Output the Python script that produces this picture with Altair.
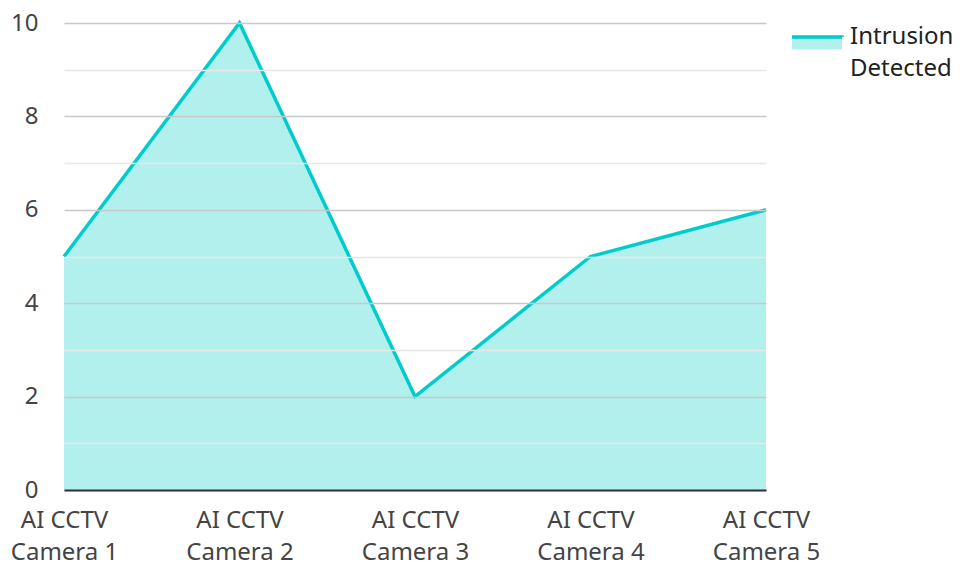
import altair as alt
import pandas as pd

cameras = ["AI CCTV Camera 1", "AI CCTV Camera 2", "AI CCTV Camera 3", "AI CCTV Camera 4", "AI CCTV Camera 5"]
intrusions = [5, 10, 2, 5, 6]
series = "Intrusion Detected"

df = pd.DataFrame({"camera": cameras, "value": intrusions, "series": [series] * len(cameras)})

FS = 24

x = alt.X("camera:N", sort=cameras, title=None,
          scale=alt.Scale(type="point", padding=0),
          axis=alt.Axis(labelAngle=0, labelExpr="['AI CCTV', slice(datum.label, 8)]",
                        labelFontSize=FS, labelColor="#444444", labelFont="Noto Sans",
                        labelPadding=18, labelLineHeight=32, labelBaseline="top",
                        ticks=False, domain=True, domainColor="#333333", domainWidth=2,
                        grid=False, zindex=2))

y = alt.Y("value:Q", title=None,
          scale=alt.Scale(domain=[0, 10], nice=False),
          axis=alt.Axis(values=list(range(0, 11)),
                        labelExpr="datum.value % 2 ? '' : datum.label",
                        labelFontSize=FS, labelColor="#444444", labelFont="Noto Sans",
                        labelPadding=26, ticks=False, domain=False,
                        grid=True, gridWidth=1.5,
                        gridColor={"condition": {"test": "datum.value % 2 == 1", "value": "#e8e8e8"}, "value": "#c8c8c8"},
                        zindex=1))

area = alt.Chart(df).mark_area(opacity=1).encode(
    x=x, y=y,
    fill=alt.Fill("series:N", title=None,
                  scale=alt.Scale(range=["#b2f0ee"]),
                  legend=alt.Legend(orient="none", legendX=741, legendY=2, title=None,
                                    symbolType="M-3.57,0L3.57,0L3.57,1.8L-3.57,1.8Z",
                                    symbolSize=196, symbolStrokeColor="#00cccc",
                                    symbolStrokeWidth=3.5, symbolDash=[50, 200],
                                    symbolOpacity=1,
                                    labelFontSize=FS, labelFont="Noto Sans", labelColor="#222222",
                                    labelExpr="split(datum.label, ' ')",
                                    labelOffset=21, labelLimit=220)),
)

line = alt.Chart(df).mark_line(color="#00cccc", strokeWidth=3.5).encode(x=x, y=y)

chart = alt.layer(area, line).properties(
    width=702, height=467,
    autosize=alt.AutoSizeParams(type="none"),
    padding={"left": 56, "top": 15, "right": 186, "bottom": 72},
).configure(font="Noto Sans", view=alt.ViewConfig(strokeWidth=0, stroke="transparent"))

chart.save("out.html", embed_options={
    "renderer": "svg", "actions": False,
    "patch": [{"op": "add", "path": "/legends/0/encode/labels/update/lineHeight", "value": {"value": 32}}],
})
